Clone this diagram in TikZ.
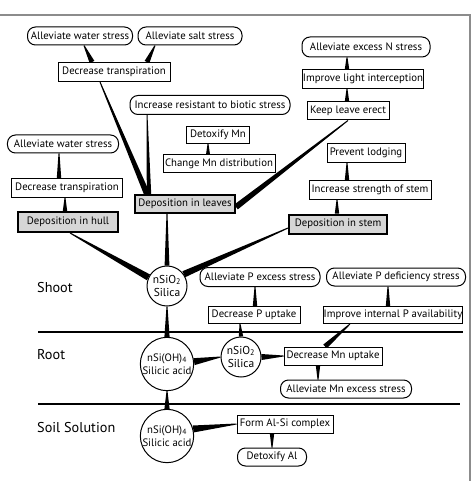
\documentclass[tikz,border=0pt]{standalone}
\usepackage{fontspec}
\setmainfont{PT Sans}
\usetikzlibrary{calc}
\pgfdeclarelayer{background}
\pgfsetlayers{background,main}
\newcommand\wedgeconn[3]{%
  \path #1 coordinate (tpA) #2 coordinate (tpB);
  \fill ($(tpA)!#3!90:(tpB)$) -- ($(tpB)!0.5bp!-90:(tpA)$) -- ($(tpB)!0.5bp!90:(tpA)$) -- ($(tpA)!#3!-90:(tpB)$) -- cycle;}
\tikzset{
  base/.style={draw, line width=1bp, fill=white, inner sep=0pt, minimum height=18bp, font=\fontsize{10.8}{13}\selectfont},
  sq/.style={base},
  rd/.style={base, rounded corners=8bp},
  dep/.style={base, fill=black!16, line width=2bp},
  circ/.style={circle, draw, line width=1bp, fill=white, inner sep=0pt, align=center, font=\fontsize{11.5}{14}\selectfont},
  acid/.style={circ, minimum size=52bp, font=\fontsize{10.8}{13.5}\selectfont},
  zone/.style={font=\fontsize{14.3}{17}\selectfont, anchor=west, inner sep=0pt},
  sep/.style={line width=1.7bp},
  frame/.style={draw=black!45, line width=1.2bp},
}
\begin{document}
\begin{tikzpicture}[x=1bp,y=-1bp]
\path[use as bounding box] (0,0) rectangle (474,481);
% frame
\coordinate (f1) at (0,15); \coordinate (f2) at (470,15); \coordinate (f3) at (470,481);
\draw[frame] (f1) -- (f2) -- (f3);
% top nodes
\node[rd, minimum width=105bp] (awt) at (80,36) {Alleviate water stress};
\node[rd, minimum width=104bp] (ast) at (190,36) {Alleviate salt stress};
\node[sq, minimum width=112bp, minimum height=19bp] (dtt) at (114,72) {Decrease transpiration};
\node[rd, minimum width=160bp, minimum height=19bp] (irb) at (210,105) {Increase resistant to biotic stress};
\node[rd, minimum width=128bp, minimum height=20bp] (aen) at (366,47) {Alleviate excess N stress};
\node[sq, minimum width=120bp, minimum height=19bp] (ili) at (363,79) {Improve light interception};
\node[sq, minimum width=82bp] (kle) at (348,111) {Keep leave erect};
\node[sq, minimum width=63bp, minimum height=17bp] (dmn) at (218,135) {Detoxify Mn};
\node[sq, minimum width=112bp] (cmd) at (219,164) {Change Mn distribution};
\node[dep, minimum width=100bp] (dil) at (185,204) {Deposition in leaves};
\node[rd, minimum width=111bp] (awl) at (63,144) {Alleviate water stress};
\node[sq, minimum width=111bp, minimum height=19bp] (dtl) at (67,188) {Decrease transpiration};
\node[dep, minimum width=100bp, minimum height=20bp] (dih) at (68,222) {Deposition in hull};
\node[sq, minimum width=78bp, minimum height=19bp] (pl) at (366,153) {Prevent lodging};
\node[sq, minimum width=122bp, minimum height=19bp] (iss) at (370,190) {Increase strength of stem};
\node[dep, minimum width=98bp, minimum height=19bp] (dis) at (338,224) {Deposition in stem};
% shoot
\node[zone] (shoot) at (37,288) {Shoot};
\node[circ, minimum size=40bp] (sil) at (167,286) {nSiO\textsubscript{2}\\Silica};
\node[rd, minimum width=120bp, minimum height=19bp] (ape) at (260,277) {Alleviate P excess stress};
\node[rd, minimum width=139bp] (apd) at (396,277) {Alleviate P deficiency stress};
\node[sq, minimum width=92bp, minimum height=17bp] (dpu) at (254,315) {Decrease P uptake};
\node[sq, minimum width=139bp, minimum height=17bp] (iip) at (393,315) {Improve internal P availability};
% separators
\coordinate (s1l) at (38,332); \coordinate (s1r) at (463,332);
\coordinate (s2l) at (38,404); \coordinate (s2r) at (460,404);
\draw[sep] (s1l) -- (s1r);
\draw[sep] (s2l) -- (s2r);
% root
\node[zone] (root) at (37,355) {Root};
\node[acid] (rsa) at (167,364) {nSi(OH)\textsubscript{4}\\Silicic acid};
\node[circ, minimum size=40bp] (rsi) at (241,357) {nSiO\textsubscript{2}\\Silica};
\node[sq, minimum width=98bp] (dmu) at (333,356) {Decrease Mn uptake};
\node[rd, minimum width=131bp] (ame) at (346,389) {Alleviate Mn excess stress};
% soil
\node[zone] (soil) at (37,428) {Soil Solution};
\node[acid] (ssa) at (167,436) {nSi(OH)\textsubscript{4}\\Silicic acid};
\node[sq, minimum width=96bp] (fas) at (285,424) {Form Al-Si complex};
\node[rd, minimum width=69bp] (dal) at (272,457) {Detoxify Al};
% connectors
\begin{pgfonlayer}{background}
\wedgeconn{([xshift=-22bp]dtt.north)}{([xshift=4bp]awt.south)}{2.6bp}
\wedgeconn{([xshift=33bp]dtt.north)}{([xshift=-35bp]ast.south)}{2.6bp}
\wedgeconn{([xshift=-38bp]dil.north)}{([xshift=-14bp]dtt.south)}{3bp}
\wedgeconn{([xshift=-36bp]dil.north)}{([xshift=-63bp]irb.south)}{2.2bp}
\wedgeconn{([yshift=-3bp]dil.east)}{(kle.south)}{3bp}
\wedgeconn{([xshift=-11bp]cmd.north)}{([xshift=-10bp]dmn.south)}{2bp}
\wedgeconn{(sil.north)}{([xshift=-18bp]dil.south)}{2.4bp}
\wedgeconn{(sil.155)}{([xshift=2bp]dih.south)}{3.3bp}
\wedgeconn{(sil.35)}{([yshift=-4bp]dis.west)}{3.3bp}
\wedgeconn{([xshift=-23bp]iss.north)}{([xshift=-19bp]pl.south)}{2.2bp}
\wedgeconn{([xshift=-1bp]dis.north)}{([xshift=-33bp]iss.south)}{2.2bp}
\wedgeconn{([xshift=-3bp]dih.north)}{([xshift=-2bp]dtl.south)}{2.2bp}
\wedgeconn{([xshift=-8bp]dtl.north)}{([xshift=-4bp]awl.south)}{2.2bp}
\wedgeconn{([xshift=-16bp]ili.north)}{([xshift=-19bp]aen.south)}{2.2bp}
\wedgeconn{([xshift=-1bp]kle.north)}{([xshift=-16bp]ili.south)}{2.2bp}
\wedgeconn{(rsa.north)}{(sil.south)}{2.6bp}
\wedgeconn{(ssa.north)}{(rsa.south)}{2.6bp}
\wedgeconn{(rsa.5)}{(rsi.west)}{3.5bp}
\wedgeconn{(rsi.east)}{(dmu.west)}{3bp}
\wedgeconn{([xshift=1bp]dpu.north)}{([xshift=-5bp]ape.south)}{2.2bp}
\wedgeconn{(rsi.north)}{([xshift=-14bp]dpu.south)}{2.2bp}
\wedgeconn{([xshift=-5bp]iip.north)}{([xshift=-8bp]apd.south)}{2.2bp}
\wedgeconn{([xshift=-8bp]dmu.north)}{([xshift=-43bp]iip.south)}{2.6bp}
\wedgeconn{([xshift=-15bp]dmu.south)}{([xshift=-28bp]ame.north)}{2.2bp}
\wedgeconn{(ssa.15)}{(fas.west)}{3.5bp}
\wedgeconn{([xshift=-13bp]fas.south)}{(dal.north)}{2.2bp}
\end{pgfonlayer}
\end{tikzpicture}
\end{document}
